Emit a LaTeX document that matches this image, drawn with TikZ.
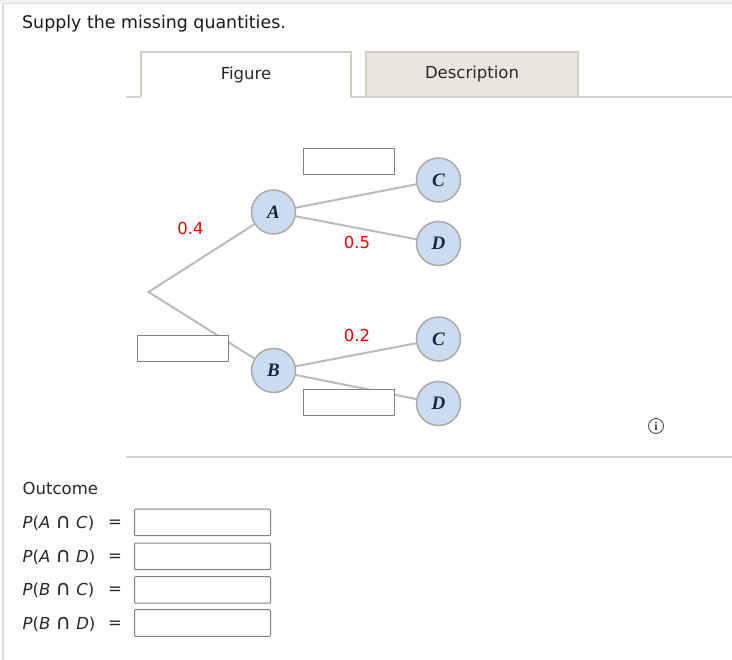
\documentclass[tikz,border=0pt]{standalone}
\usepackage{fontspec}
\setmainfont{DejaVu Sans}
\newfontfamily\letterfont{Liberation Serif}
\definecolor{topband}{RGB}{242,242,242}
\definecolor{frameline}{RGB}{218,218,218}
\definecolor{tabfill}{RGB}{233,230,224}
\definecolor{tabline}{RGB}{210,206,198}
\definecolor{sepline}{RGB}{214,211,204}
\definecolor{numred}{RGB}{235,0,0}
\definecolor{ballfill}{RGB}{204,220,240}
\definecolor{ballline}{RGB}{170,170,170}
\definecolor{balltext}{RGB}{25,35,70}
\definecolor{branchline}{RGB}{187,187,187}
\definecolor{fieldline}{RGB}{130,130,130}
\definecolor{maintext}{RGB}{40,40,40}
\newcommand{\capsym}{{\fontsize{21}{21}\selectfont ∩}}
\begin{document}
\begin{tikzpicture}[x=1pt,y=-1pt,
  txt/.style={inner sep=0pt,font=\fontsize{16.5}{18}\selectfont,text=maintext},
  rednum/.style={txt,text=numred},
  ball/.style={circle,draw=ballline,line width=1.5pt,fill=ballfill,minimum size=44pt,inner sep=0pt,font=\letterfont\bfseries\itshape\fontsize{19}{20}\selectfont,text=balltext},
  branch/.style={draw=branchline,line width=2pt},
  field/.style={draw=fieldline,line width=1pt,fill=white,minimum width=91pt,minimum height=26pt,inner sep=0pt},
  ofield/.style={draw=fieldline,line width=1pt,fill=white,minimum width=136pt,minimum height=26.5pt,inner sep=0pt,rounded corners=1pt},
  sep/.style={draw=sepline,line width=2pt},
  tab/.style={draw=tabline,line width=1.2pt}
]
\useasboundingbox (0,0) rectangle (732,660);
\fill[white] (0,0) rectangle (732,660);
% page frame
\fill[topband] (0,0) rectangle (732,4);
\draw[frameline,line width=1pt] (3,4) -- (732,4);
\draw[frameline,line width=1.5pt] (3,4) -- (3,660);
% title
\node[txt,anchor=west,font=\fontsize{17.4}{19}\selectfont,text=black!90] (title) at (22,24) {Supply the missing quantities.};
% tabs
\fill[tabfill] (366,52) rectangle (578,97);
\draw[tab] (366,97) -- (366,52) -- (578,52) -- (578,97);
\draw[sep] (126,97) -- (141,97);
\draw[sep] (351,97) -- (732,97);
\draw[tab] (141,97) -- (141,52) -- (351,52) -- (351,97);
\node[txt] (figtab) at (246,75) {Figure};
\node[txt] (desctab) at (472,74) {Description};
% tree
\coordinate (root) at (148.5,292);
\node[ball] (A) at (273.5,212) {A};
\node[ball] (B) at (273.5,370.5) {B};
\node[ball] (C1) at (438.5,180) {C};
\node[ball] (D1) at (438.5,243.5) {D};
\node[ball] (C2) at (438.5,339) {C};
\node[ball] (D2) at (438.5,403.5) {D};
\draw[branch] (A) -- (root) -- (B);
\draw[branch] (A) -- (C1);
\draw[branch] (A) -- (D1);
\draw[branch] (B) -- (C2);
\draw[branch] (B) -- (D2);
\node[field] (pAC) at (349,162) {};
\node[field] (pB) at (182.5,349) {};
\node[field] (pBD) at (349,402.5) {};
\node[rednum] (l04) at (190.5,228) {0.4};
\node[rednum] (l05) at (357,242.5) {0.5};
\node[rednum] (l02) at (357,335) {0.2};
% info icon
\node[circle,draw=black!70,line width=0.9pt,minimum size=15pt,inner sep=0pt,font=\letterfont\bfseries\fontsize{12}{12}\selectfont,text=black!75] (info) at (656,426) {i};
% separator
\draw[sep] (126,457) -- (732,457);
% outcomes
\node[txt,anchor=west] (outcome) at (22.5,488.5) {Outcome};
\node[txt,anchor=base west] (r1) at (22.5,529) {\textit{P}(\textit{A} \capsym{} \textit{C})};
\node[txt,anchor=base west] (r2) at (22.5,562.5) {\textit{P}(\textit{A} \capsym{} \textit{D})};
\node[txt,anchor=base west] (r3) at (22.5,596) {\textit{P}(\textit{B} \capsym{} \textit{C})};
\node[txt,anchor=base west] (r4) at (22.5,629.5) {\textit{P}(\textit{B} \capsym{} \textit{D})};
\node[txt] (e1) at (115,524) {=};
\node[txt] (e2) at (115,557.5) {=};
\node[txt] (e3) at (115,591) {=};
\node[txt] (e4) at (115,624.5) {=};
\node[ofield] (o1) at (202.5,522.5) {};
\node[ofield] (o2) at (202.5,556.3) {};
\node[ofield] (o3) at (202.5,590) {};
\node[ofield] (o4) at (202.5,623) {};
\end{tikzpicture}
\end{document}
